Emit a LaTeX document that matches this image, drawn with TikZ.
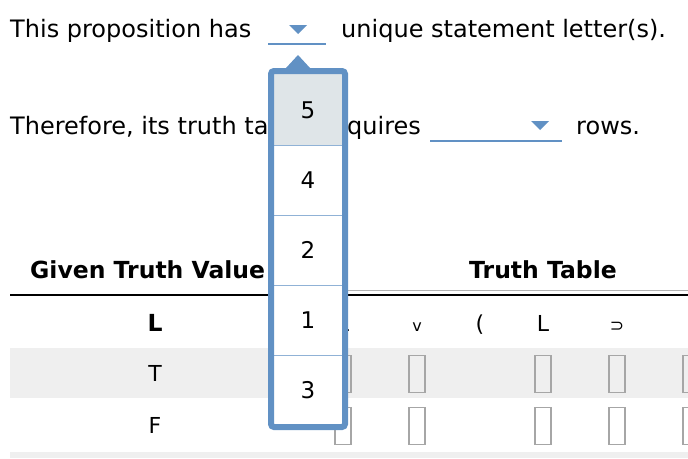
\documentclass[tikz,border=0pt]{standalone}
\usepackage{fontspec}
\setmainfont{DejaVu Sans}
\begin{document}
\begin{tikzpicture}[x=1pt,y=-1pt,
  txt/.style={anchor=base west,inner sep=0,font=\fontsize{24}{28}\selectfont},
  hdr/.style={anchor=base,inner sep=0,font=\fontsize{23.5}{28}\selectfont\bfseries},
  cell/.style={anchor=base,inner sep=0,font=\fontsize{22}{26}\selectfont},
  ibox/.style={draw=gray!70,line width=1.3pt,minimum width=16pt,minimum height=37pt,inner sep=0},
  item/.style={anchor=base,inner sep=0,font=\fontsize{23}{26}\selectfont}]
\definecolor{blu}{HTML}{6191C4}
\definecolor{rowg}{HTML}{EFEFEF}
\definecolor{selg}{HTML}{DFE5E8}
\useasboundingbox (0,0) rectangle (688,458);
\fill[white] (0,0) rectangle (688,458);
% text lines
\node[txt] (l1) at (10,37) {This proposition has};
\node[txt] (l1b) at (341,37) {unique statement letter(s).};
\draw[blu,line width=2.5pt] (268,44) coordinate (u1a) -- (326,44) coordinate (u1b);
\fill[blu] (289,25) -- (307,25) -- (298,34) -- cycle;
\node[txt] (l2) at (10,134) {Therefore, its truth ta};
\node[txt] (l2m) at (347,134) {quires};
\node[txt] (l2b) at (576,134) {rows.};
\draw[blu,line width=2.5pt] (430,141) coordinate (u2a) -- (562,141) coordinate (u2b);
\fill[blu] (531,121) -- (549,121) -- (540,130) -- cycle;
% table
\node[hdr,anchor=base west] (g) at (30,278) {Given Truth Value};
\node[hdr] (tt) at (543,278) {Truth Table};
\draw[gray!60,line width=1pt] (345,290) -- (688,290);
\draw[black,line width=2pt] (10,295) -- (688,295);
\fill[rowg] (10,348) rectangle (688,398);
\fill[rowg] (10,452) rectangle (688,458);
\node[hdr] (hL) at (155,331) {L};
\foreach \x/\s/\n in {343/L/a,417/{\fontsize{16}{12}\selectfont v}/b,480/(/c,543/L/d,617/{\fontsize{17}{12}\selectfont ⊃}/e,694/L/f}
  \node[cell] (h\n) at (\x,331) {\s};
\node[cell] (rT) at (155,381) {T};
\node[cell] (rF) at (155,433) {F};
\foreach \x/\n in {343/a,417/b,543/d,617/e,691/f}{
  \node[ibox] (t\n) at (\x,374) {};
  \node[ibox] (f\n) at (\x,426) {};
}
% dropdown list
\fill[blu] (286,68) -- (298,55) -- (310,68) -- cycle;
\fill[white] (271,71) rectangle (345,427);
\fill[selg] (274,74) rectangle (342,145);
\foreach \y in {145,215,285,355} \draw[blu!70,line width=1pt] (274,\y) -- (342,\y);
\draw[blu,line width=6pt,rounded corners=3pt] (271,71) rectangle (345,427);
\foreach \v/\y/\n in {5/118/i5,4/188/i4,2/258/i2,1/328/i1,3/398/i3}
  \node[item] (\n) at (308,\y) {\v};
\end{tikzpicture}
\end{document}
